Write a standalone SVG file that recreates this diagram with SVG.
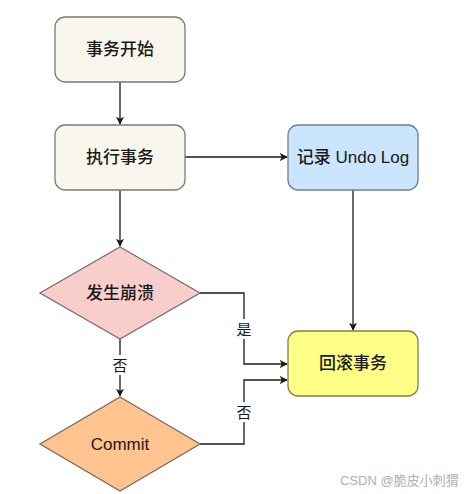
<svg xmlns="http://www.w3.org/2000/svg" width="474" height="494" viewBox="0 0 474 494">
<style>
  text { font-family: "Liberation Sans", "Noto Sans CJK SC", sans-serif; font-size: 17px; font-weight: 500; fill: #1a1a1a; text-anchor: middle; dominant-baseline: central; }
  .node { stroke-width: 1.3; }
  .edge { fill: none; stroke: #1a1a1a; stroke-width: 1.3; }
  .lbl { font-size: 15px; font-weight: normal; }
  .bg { fill: #ffffff; }
  .wm { font-size: 13px; font-weight: normal; fill: #b0b0b0; text-anchor: start; }
</style>
<defs>
  <marker id="arr" viewBox="0 0 10 10" refX="9" refY="5" markerWidth="8" markerHeight="8" orient="auto" markerUnits="userSpaceOnUse">
    <path d="M0,0 L10,5 L0,10 L2.5,5 Z" fill="#1a1a1a"/>
  </marker>
</defs>
<rect width="474" height="494" fill="#ffffff"/>
<g id="connectors">
  <path class="edge" d="M120,82 L120,124" marker-end="url(#arr)"/>
  <path class="edge" d="M185,157 L287,157" marker-end="url(#arr)"/>
  <path class="edge" d="M120,190 L120,246" marker-end="url(#arr)"/>
  <path class="edge" d="M353,190 L353,330" marker-end="url(#arr)"/>
  <path class="edge" d="M200,293 L244,293 L244,364 L287,364" marker-end="url(#arr)"/>
  <path class="edge" d="M120,339 L120,396" marker-end="url(#arr)"/>
  <path class="edge" d="M200,444 L244,444 L244,380 L287,380" marker-end="url(#arr)"/>
  <rect class="bg" x="236" y="319" width="16" height="20"/>
  <text class="lbl" x="244" y="329">是</text>
  <rect class="bg" x="112" y="355" width="16" height="20"/>
  <text class="lbl" x="120" y="365">否</text>
  <rect class="bg" x="236" y="402" width="16" height="20"/>
  <text class="lbl" x="244" y="412">否</text>
</g>
<g id="start">
  <rect class="node" x="55" y="17" width="130" height="65" rx="10" fill="#f9f7ed" stroke="#7a7a7a"/>
  <text x="120" y="49.5">事务开始</text>
</g>
<g id="exec">
  <rect class="node" x="55" y="125" width="130" height="65" rx="10" fill="#f9f7ed" stroke="#7a7a7a"/>
  <text x="120" y="157.5">执行事务</text>
</g>
<g id="undolog">
  <rect class="node" x="288" y="125" width="130" height="65" rx="10" fill="#cce5ff" stroke="#6f7f8f"/>
  <text x="353" y="157.5">记录 Undo Log</text>
</g>
<g id="crash">
  <polygon class="node" points="120,247 200,293 120,339 40,293" fill="#f8cecc" stroke="#7f6a6a"/>
  <text x="120" y="293">发生崩溃</text>
</g>
<g id="rollback">
  <rect class="node" x="288" y="331" width="130" height="65" rx="10" fill="#ffff88" stroke="#7f7f50"/>
  <text x="353" y="363.5">回滚事务</text>
</g>
<g id="commit">
  <polygon class="node" points="120,397 200,444 120,491 40,444" fill="#ffc48f" stroke="#7f6a5a"/>
  <text x="120" y="444">Commit</text>
</g>
<text class="wm" x="340" y="480">CSDN @脆皮小刺猬</text>
</svg>
